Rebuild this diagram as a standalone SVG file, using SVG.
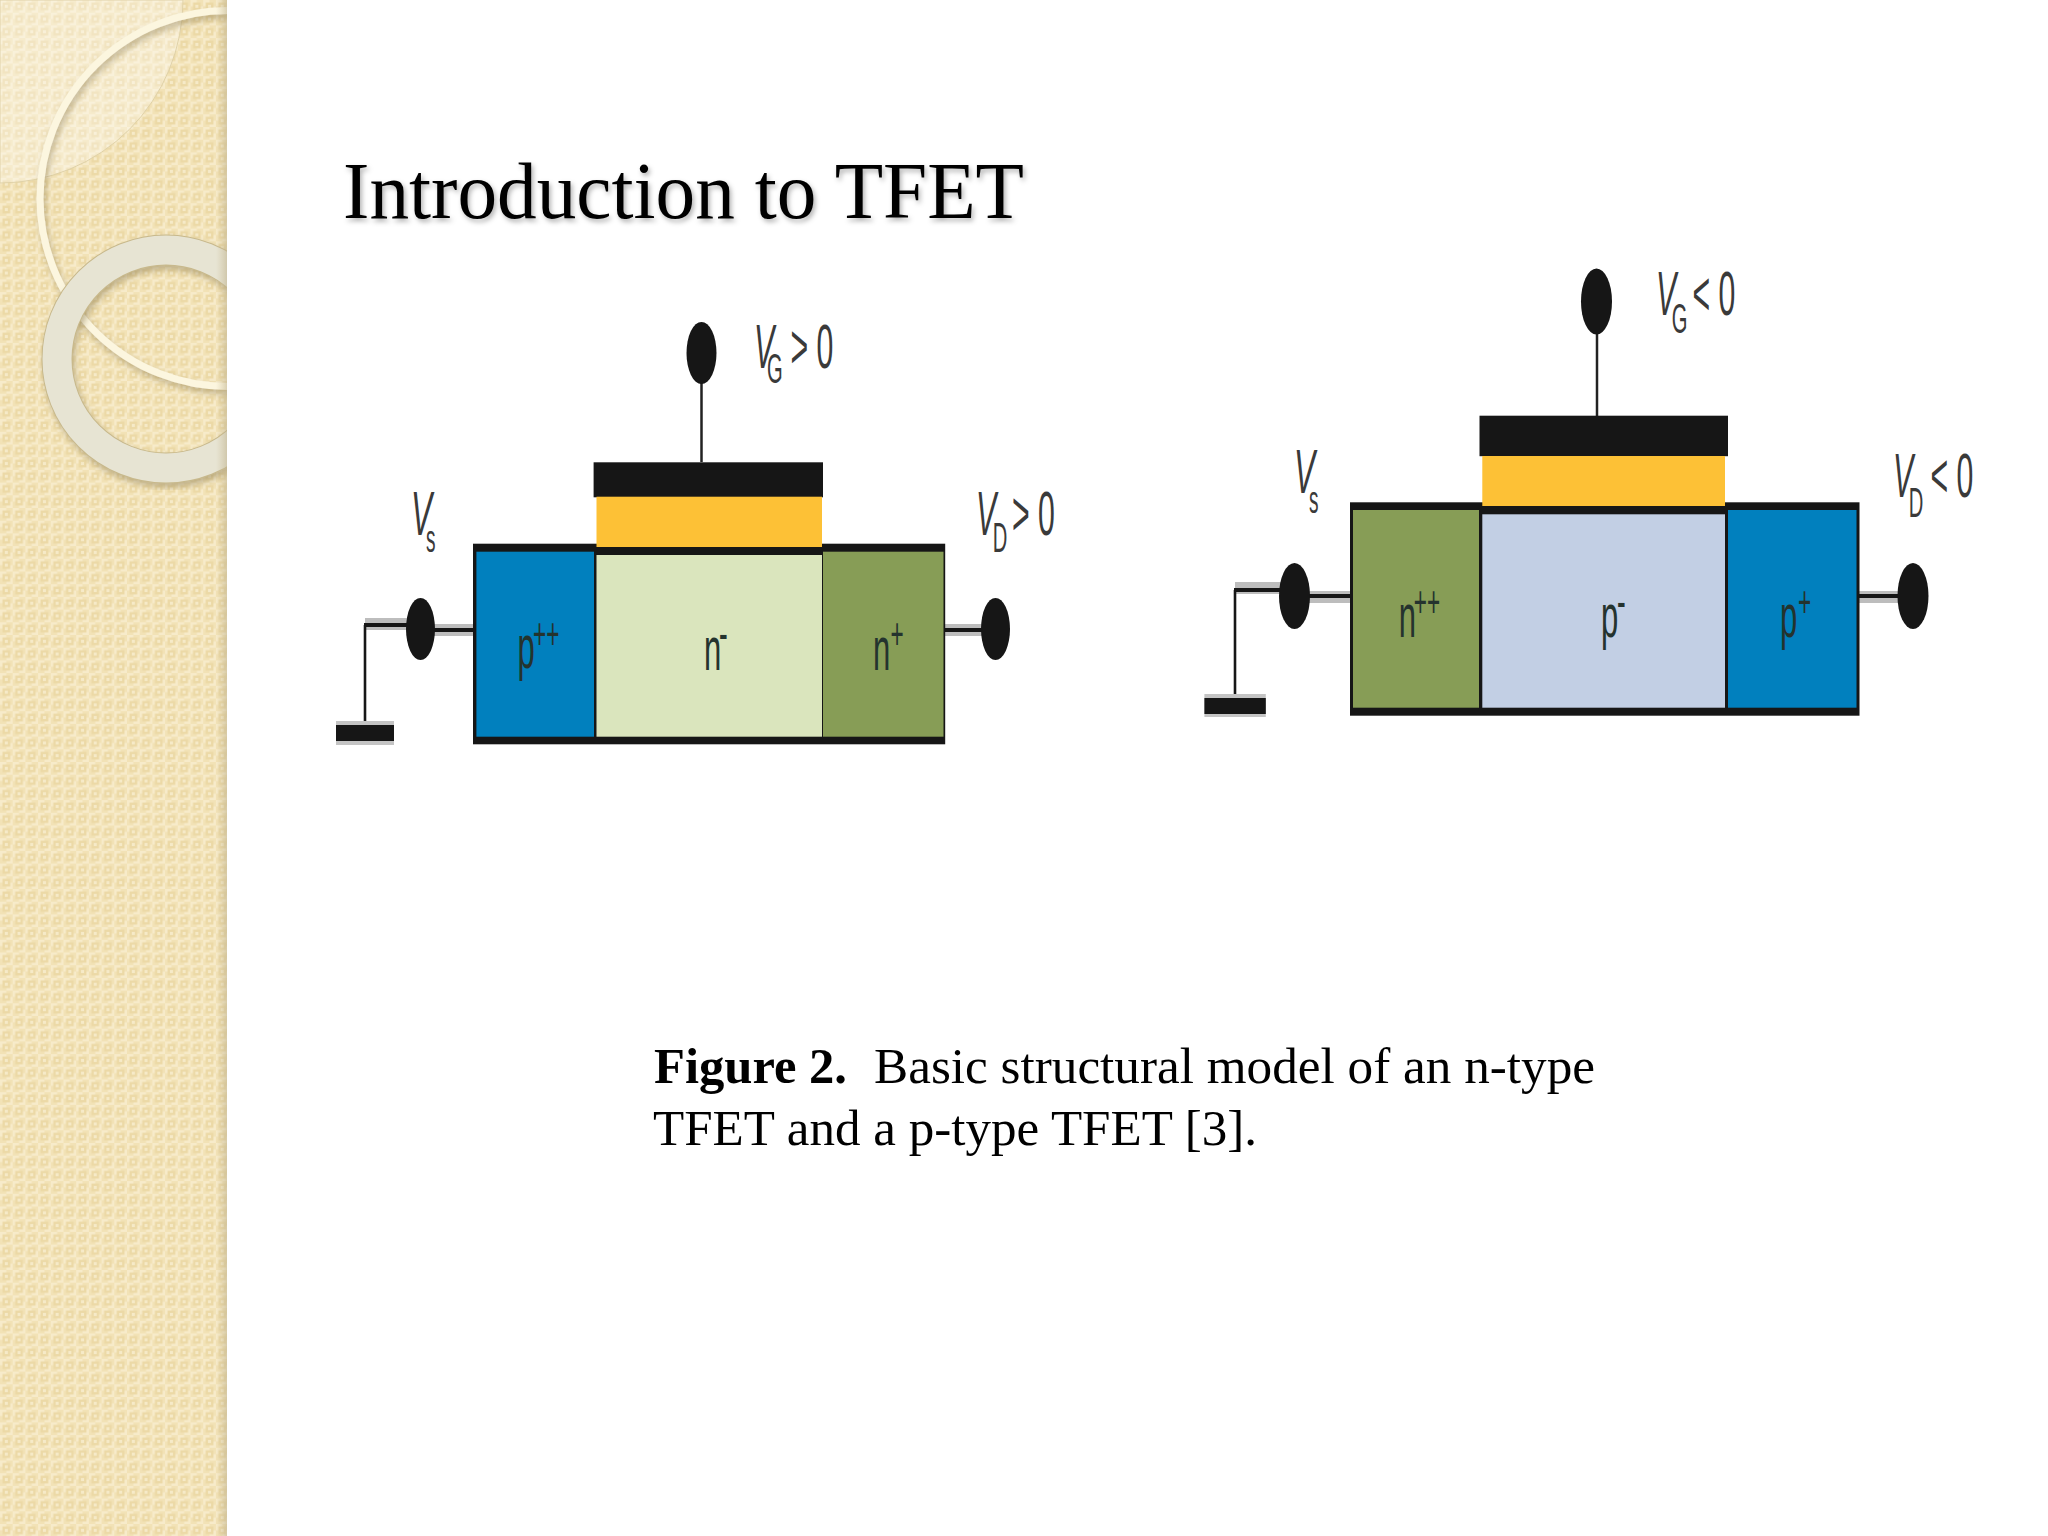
<svg xmlns="http://www.w3.org/2000/svg" width="2048" height="1536" viewBox="0 0 2048 1536">
<style>
.serif{font-family:"Liberation Serif","Times New Roman",serif;fill:#000}
.lab{font-family:"Liberation Sans",Arial,sans-serif;fill:#3a3a3a;font-size:63px}
.dop{font-family:"Liberation Sans",Arial,sans-serif;fill:#24332e;font-size:62px}
.sub{font-size:42px}
.sup{font-size:38px}
.sp{font-size:45px}
.blk{fill:#161616}
.ox{fill:#fdc136}
.bl{fill:#0180be}
.gr{fill:#879d56}
.wire{fill:none;stroke:#161616;stroke-width:4}
.drop{fill:none;stroke:#161616;stroke-width:2.6}
.halo{fill:none;stroke:#bdbdbd;stroke-width:12}
.gate{fill:none;stroke:#222;stroke-width:2.5}
.pad{fill:#161616}
.gh{fill:#c4c4c4}
</style>
<defs>
<pattern id="weave" width="12.7" height="12.7" patternUnits="userSpaceOnUse">
<rect width="12.7" height="12.7" fill="#f2e2b6"/>
<rect x="0" y="0" width="6.35" height="6.35" fill="#f7ebca"/>
<rect x="6.35" y="6.35" width="6.35" height="6.35" fill="#f7ebca"/>
<rect x="2.5" y="2.5" width="7.7" height="7.7" fill="#ecd9a6"/>
<rect x="4.8" y="4.8" width="3.1" height="3.1" fill="#f6eac8"/>
</pattern>
<linearGradient id="edge" x1="0" x2="1" y1="0" y2="0">
<stop offset="0" stop-color="#cbbd95" stop-opacity="0"/>
<stop offset="1" stop-color="#bdb08c" stop-opacity=".55"/>
</linearGradient>
<clipPath id="side"><rect width="227" height="1536"/></clipPath>
<filter id="soft" x="-10%" y="-10%" width="120%" height="120%"><feDropShadow dx="2" dy="4" stdDeviation="3" flood-color="#8a7a50" flood-opacity=".5"/></filter>
<filter id="ts" x="-5%" y="-20%" width="110%" height="140%"><feDropShadow dx="2" dy="3" stdDeviation="2.5" flood-color="#000" flood-opacity=".3"/></filter>
</defs>
<rect width="2048" height="1536" fill="#fff"/>
<g id="sidebar" clip-path="url(#side)">
<rect width="227" height="1536" fill="url(#weave)"/>
<path d="M0 0H183A183 183 0 0 1 0 183Z" fill="#fff" fill-opacity=".3" stroke="#e0d2a8" stroke-width="1"/>
<circle cx="228" cy="198.5" r="188" fill="none" stroke="#fcf6df" stroke-width="7" filter="url(#soft)"/>
<g filter="url(#soft)">
<circle cx="166" cy="359" r="109" fill="none" stroke="#c8b98c" stroke-width="31"/>
<circle cx="166" cy="359" r="109" fill="none" stroke="#e8e4d4" stroke-width="29" stroke-opacity=".98"/>
</g>
<rect x="216" width="11" height="1536" fill="url(#edge)"/>
</g>
<text id="title" class="serif" x="343" y="218" font-size="81" textLength="681" lengthAdjust="spacingAndGlyphs" filter="url(#ts)">Introduction to TFET</text>
<g id="connectors">
<path class="halo" d="M365 624H420"/><path class="halo" d="M420 630H474"/><path class="halo" d="M945 630H995"/>
<path class="drop" d="M365 727V625"/><path class="wire" d="M364 625H420"/><path class="wire" d="M420 630H474"/><path class="wire" d="M945 630H995"/>
<path class="gate" d="M701.5 383V462"/>
<path class="halo" d="M1235 588H1294"/><path class="halo" d="M1294 597H1350"/><path class="halo" d="M1859 597H1913"/>
<path class="drop" d="M1235 697V590"/><path class="wire" d="M1234 590H1294"/><path class="wire" d="M1294 596H1350"/><path class="wire" d="M1859 596H1913"/>
<path class="gate" d="M1597 332V416"/>
</g>
<g id="n-tfet">
<g id="n-body"><rect class="blk" x="473" y="543.7" width="472.2" height="200.6"/></g>
<g id="n-source"><rect class="bl" x="476.4" y="551.7" width="117.6" height="185"/><text class="dop" transform="translate(517.6 668) scale(.5 1)">p<tspan class="sp" x="31" dy="-19">++</tspan></text></g>
<g id="n-channel"><rect x="596.5" y="555" width="225.5" height="181.7" fill="#dae5bd"/><text class="dop" transform="translate(704 670) scale(.5 1)">n<tspan x="30" dy="-19" font-size="52">-</tspan></text></g>
<g id="n-drain"><rect class="gr" x="823" y="551.7" width="120.5" height="185"/><text class="dop" transform="translate(873 670) scale(.5 1)">n<tspan class="sp" x="35" dy="-21">+</tspan></text></g>
<g id="n-gate"><rect class="blk" x="593.6" y="462.3" width="229.4" height="35"/><rect class="ox" x="596.5" y="496.7" width="225.5" height="50.3"/></g>
<g id="n-vg"><ellipse class="pad" cx="701.5" cy="353" rx="15" ry="31"/><text class="lab" transform="translate(754 368) scale(.48 1)"><tspan font-style="italic">V</tspan><tspan class="sub" x="27" dy="15">G</tspan><tspan x="76" dy="-15">&gt; 0</tspan></text></g>
<g id="n-vs"><ellipse class="pad" cx="420.5" cy="629" rx="14.5" ry="31"/><text class="lab" transform="translate(411 535) scale(.5 1)"><tspan font-style="italic">V</tspan><tspan class="sup" x="30" dy="17">s</tspan></text></g>
<g id="n-vd"><ellipse class="pad" cx="995.5" cy="629" rx="14.5" ry="31"/><text class="lab" transform="translate(976 535) scale(.48 1)"><tspan font-style="italic">V</tspan><tspan class="sub" x="35" dy="17">D</tspan><tspan x="75" dy="-17">&gt; 0</tspan></text></g>
<g id="n-ground"><rect class="gh" x="336" y="721" width="58" height="24"/><rect class="blk" x="336" y="725" width="58" height="16"/></g>
</g>
<g id="p-tfet">
<g id="p-body"><rect class="blk" x="1350" y="502.3" width="509.5" height="213.4"/></g>
<g id="p-source"><rect class="gr" x="1353" y="510" width="126" height="197.7"/><text class="dop" transform="translate(1398.8 637) scale(.5 1)">n<tspan class="sp" x="30" dy="-20">++</tspan></text></g>
<g id="p-channel"><rect x="1482.3" y="514.3" width="242.7" height="193.4" fill="#c2cfe4"/><text class="dop" transform="translate(1601 637) scale(.5 1)">p<tspan x="32" dy="-18" font-size="52">-</tspan></text></g>
<g id="p-drain"><rect class="bl" x="1728" y="510" width="128.5" height="197.7"/><text class="dop" transform="translate(1780 637) scale(.5 1)">p<tspan class="sp" x="36" dy="-20">+</tspan></text></g>
<g id="p-gate"><rect class="blk" x="1479.5" y="415.7" width="248.5" height="40.5"/><rect class="ox" x="1482.3" y="456" width="242.7" height="50"/></g>
<g id="p-vg"><ellipse class="pad" cx="1596.5" cy="301.5" rx="15.5" ry="33"/><text class="lab" transform="translate(1656 315) scale(.48 1)"><tspan font-style="italic">V</tspan><tspan class="sub" x="33" dy="18">G</tspan><tspan x="76" dy="-18">&lt; 0</tspan></text></g>
<g id="p-vs"><ellipse class="pad" cx="1294.5" cy="596" rx="15.5" ry="33"/><text class="lab" transform="translate(1294 493) scale(.5 1)"><tspan font-style="italic">V</tspan><tspan class="sup" x="30" dy="20">s</tspan></text></g>
<g id="p-vd"><ellipse class="pad" cx="1913" cy="596" rx="15.5" ry="33"/><text class="lab" transform="translate(1893 497) scale(.48 1)"><tspan font-style="italic">V</tspan><tspan class="sub" x="33" dy="20">D</tspan><tspan x="78" dy="-20">&lt; 0</tspan></text></g>
<g id="p-ground"><rect class="gh" x="1204.4" y="694" width="61.4" height="23"/><rect class="blk" x="1204.4" y="698" width="61.4" height="16"/></g>
</g>
<g id="caption">
<text class="serif" x="654" y="1083" font-size="51" font-weight="bold" textLength="193" lengthAdjust="spacingAndGlyphs">Figure 2.</text>
<text class="serif" x="874" y="1083" font-size="51" textLength="721" lengthAdjust="spacingAndGlyphs">Basic structural model of an n-type</text>
<text class="serif" x="653" y="1145" font-size="51" textLength="604" lengthAdjust="spacingAndGlyphs">TFET and a p-type TFET [3].</text>
</g>
</svg>
